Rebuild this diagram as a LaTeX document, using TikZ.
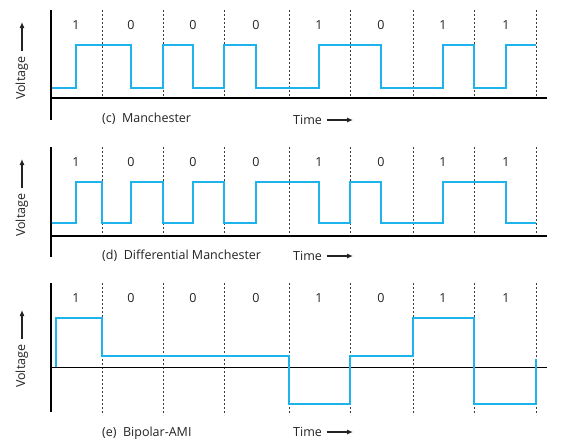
\documentclass[tikz,border=0pt]{standalone}
\usepackage{fontspec}
\setmainfont{Open Sans}
\usetikzlibrary{arrows.meta}
\definecolor{sigblue}{RGB}{30,180,235}
\definecolor{dashgray}{RGB}{60,60,60}
\definecolor{txt}{RGB}{35,35,35}
\tikzset{
  sig/.style={draw=sigblue, line width=2pt, line join=miter},
  vaxis/.style={draw=black, line width=2.6pt},
  haxis/.style={draw=black, line width=2pt},
  haxisthin/.style={draw=black, line width=1pt},
  bitsep/.style={draw=dashgray, line width=0.9pt, dash pattern=on 2pt off 2pt},
  lbl/.style={font=\fontsize{12.5}{14}\selectfont, text=txt, inner sep=0pt},
  arr/.style={draw=txt, line width=1.1pt, -{Latex[length=6pt,width=5pt]}}
}
\begin{document}
\begin{tikzpicture}[x=1pt,y=-1pt]
\useasboundingbox (0,0) rectangle (565,445);
% ---------- (c) Manchester ----------
\coordinate (cva) at (51,10); \coordinate (cvb) at (51,120);
\coordinate (cha) at (50,98); \coordinate (chb) at (547,98);
\foreach \x in {102,163,224,289,350,413,474,536} \draw[bitsep] (\x,10) -- (\x,98);
\draw[vaxis] (cva) -- (cvb);
\draw[haxis] (cha) -- (chb);
\foreach \x/\b [count=\i] in {76/1,131/0,193/0,256/0,319/1,381/0,443/1,506/1}
  \node[lbl] (cb\i) at (\x,25) {\b};
\draw[sig] (52,88) -- (76,88) -- (76,45) -- (131,45) -- (131,88) -- (163,88) -- (163,45) -- (193,45) -- (193,88) -- (224,88) -- (224,45) -- (256,45) -- (256,88) -- (319,88) -- (319,45) -- (381,45) -- (381,88) -- (443,88) -- (443,45) -- (474,45) -- (474,88) -- (506,88) -- (506,45) -- (536,45);
\node[lbl, anchor=west] (ccap) at (102,119) {(c)\ \ Manchester};
\node[lbl, anchor=west] (ctime) at (293,120) {Time};
\coordinate (ctarr) at (353,120);
\draw[arr] ([xshift=5pt]ctime.east) -- (ctarr);
\node[lbl, rotate=90, anchor=west] (cvolt) at (22,100) {Voltage};
\coordinate (cvarr) at (22,22);
\draw[arr] ([yshift=5pt]cvolt.east) -- (cvarr);
% ---------- (d) Differential Manchester ----------
\coordinate (dva) at (51,147); \coordinate (dvb) at (51,257);
\coordinate (dha) at (50,236); \coordinate (dhb) at (547,236);
\foreach \x in {102,163,224,289,350,413,474,536} \draw[bitsep] (\x,147) -- (\x,236);
\draw[vaxis] (dva) -- (dvb);
\draw[haxis] (dha) -- (dhb);
\foreach \x/\b [count=\i] in {76/1,131/0,193/0,256/0,319/1,381/0,443/1,506/1}
  \node[lbl] (db\i) at (\x,162) {\b};
\draw[sig] (52,223) -- (76,223) -- (76,182) -- (102,182) -- (102,223) -- (131,223) -- (131,182) -- (163,182) -- (163,223) -- (193,223) -- (193,182) -- (224,182) -- (224,223) -- (256,223) -- (256,182) -- (319,182) -- (319,223) -- (350,223) -- (350,182) -- (381,182) -- (381,223) -- (443,223) -- (443,182) -- (506,182) -- (506,223) -- (536,223);
\node[lbl, anchor=west] (dcap) at (102,256) {(d)\ \ Differential Manchester};
\node[lbl, anchor=west] (dtime) at (293,256) {Time};
\coordinate (dtarr) at (353,256);
\draw[arr] ([xshift=5pt]dtime.east) -- (dtarr);
\node[lbl, rotate=90, anchor=west] (dvolt) at (22,237) {Voltage};
\coordinate (dvarr) at (22,159);
\draw[arr] ([yshift=5pt]dvolt.east) -- (dvarr);
% ---------- (e) Bipolar-AMI ----------
\coordinate (eva) at (51,283); \coordinate (evb) at (51,412);
\coordinate (eha) at (50,367); \coordinate (ehb) at (547,367);
\foreach \x in {102,163,224,289,350,413,474,536} \draw[bitsep] (\x,283) -- (\x,415);
\draw[vaxis] (eva) -- (evb);
\draw[haxisthin] (eha) -- (ehb);
\foreach \x/\b [count=\i] in {76/1,131/0,193/0,256/0,319/1,381/0,443/1,506/1}
  \node[lbl] (eb\i) at (\x,298) {\b};
\draw[sig] (56,367) -- (56,318) -- (102,318) -- (102,356) -- (289,356) -- (289,404) -- (350,404) -- (350,356) -- (413,356) -- (413,318) -- (474,318) -- (474,404) -- (536,404) -- (536,359);
\node[lbl, anchor=west] (ecap) at (102,433) {(e)\ \ Bipolar-AMI};
\node[lbl, anchor=west] (etime) at (293,432) {Time};
\coordinate (etarr) at (353,432);
\draw[arr] ([xshift=5pt]etime.east) -- (etarr);
\node[lbl, rotate=90, anchor=west] (evolt) at (22,388) {Voltage};
\coordinate (evarr) at (22,310);
\draw[arr] ([yshift=5pt]evolt.east) -- (evarr);
\end{tikzpicture}
\end{document}
